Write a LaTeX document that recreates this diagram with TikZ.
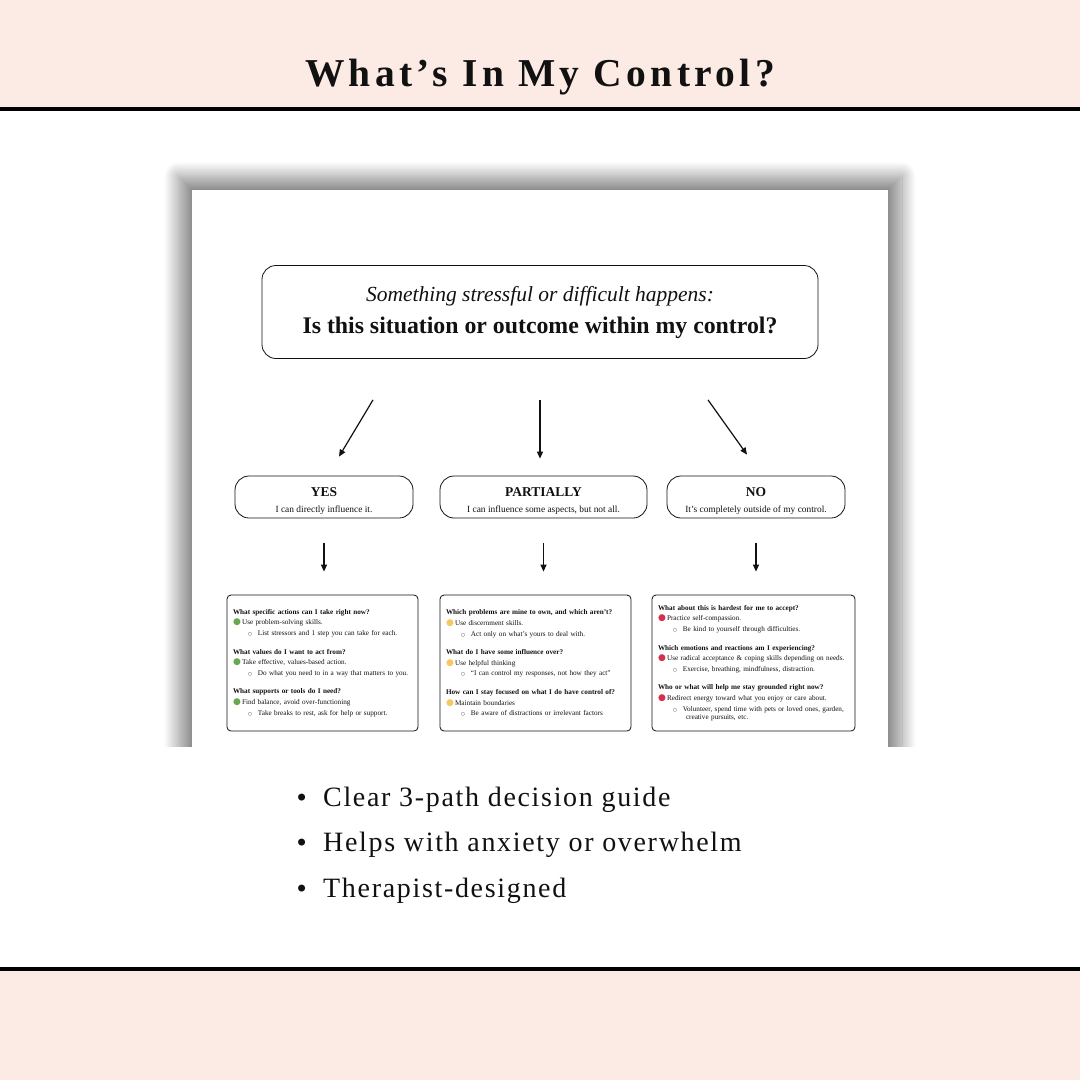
\documentclass[tikz,border=0pt]{standalone}
\usepackage{fontspec}
\setmainfont{Liberation Serif}
\newfontfamily\headfont[LetterSpace=11]{Liberation Serif}
\newfontfamily\listfont[LetterSpace=6]{Liberation Serif}
\newfontfamily\dotfont{DejaVu Sans}
\usetikzlibrary{arrows.meta,shadows.blur}

\definecolor{blush}{RGB}{252,235,228}
\definecolor{inkblack}{RGB}{17,17,17}
\definecolor{okgreen}{RGB}{106,168,79}
\definecolor{somegold}{RGB}{246,200,95}
\definecolor{nored}{RGB}{214,48,74}

\newcommand{\ask}[1]{\textbf{#1}}
\newcommand{\act}[2]{{\dotfont\fontsize{9}{9}\selectfont\textcolor{#1}{●}}\,#2}
\newcommand{\tip}[1]{\hspace*{15pt}{\dotfont\fontsize{4.5}{4}\selectfont ○}\hspace{6pt}#1}

\tikzset{
  askbox/.style={draw,rounded corners=14pt,line width=0.8pt,minimum width=556pt,
    minimum height=93pt,align=center,inner sep=0pt,font=\fontsize{21}{32}\selectfont},
  choice/.style={draw,rounded corners=14pt,line width=0.8pt,minimum height=42pt,
    align=center,inner sep=0pt,font=\fontsize{10}{16}\selectfont},
  pickbox/.style={draw,rounded corners=4pt,line width=0.8pt,minimum height=136pt,
    align=left,inner xsep=6pt,font=\fontsize{7.2}{10.6}\selectfont},
  flow/.style={line width=1.2pt,-{Triangle[length=7pt,width=6pt]}},
  feature/.style={anchor=base west,inner sep=0pt,font=\listfont\fontsize{28}{28}\selectfont},
  featdot/.style={anchor=base east,xshift=-14pt,inner sep=0pt,font=\dotfont\fontsize{24}{24}\selectfont}
}

\begin{document}
\begin{tikzpicture}[x=1pt,y=-1pt,inkblack]
  \useasboundingbox (0,0) rectangle (1080,1080);

  % bands
  \fill[blush] (0,0) rectangle (1080,108);
  \fill[black] (0,107) rectangle (1080,111);
  \fill[black] (0,967) rectangle (1080,971);
  \fill[blush] (0,971) rectangle (1080,1080);
  \node (title) at (540,86) [anchor=base,inner sep=0pt]
    {\headfont\fontsize{39.5}{40}\selectfont\bfseries What’s In My Control?};

  % the sheet
  \begin{scope}
    \clip (0,112) rectangle (1080,746);
    \path[blur shadow={shadow xshift=0pt,shadow yshift=0pt,shadow blur steps=24,
      shadow blur radius=14pt,shadow opacity=45}] (178,176) rectangle (902,800);
    \fill[white] (192,190) rectangle (888,780);
  \end{scope}

  \node (q) at (540,312) [askbox]
    {{\fontsize{21.5}{32}\selectfont\itshape Something stressful or difficult happens:}\\
     {\fontsize{23.8}{32}\selectfont\bfseries Is this situation or outcome within my control?}};

  \node (yes) at (324,497) [choice,minimum width=178pt]
    {\rule{0pt}{17pt}{\fontsize{13.5}{16}\selectfont\bfseries YES}\\
     {\fontsize{9.4}{16}\selectfont I can directly influence it.}};
  \node (part) at (543.5,497) [choice,minimum width=207pt]
    {\rule{0pt}{17pt}{\fontsize{13.5}{16}\selectfont\bfseries PARTIALLY}\\
     {\fontsize{9.4}{16}\selectfont I can influence some aspects, but not all.}};
  \node (no) at (756,497) [choice,minimum width=178pt]
    {\rule{0pt}{17pt}{\fontsize{13.5}{16}\selectfont\bfseries NO}\\
     {\fontsize{9.4}{16}\selectfont It’s completely outside of my control.}};

  \draw[flow] ([xshift=-167pt,yshift=-41pt]q.south) -- ([xshift=15pt,yshift=19pt]yes.north);
  \draw[flow] ([yshift=-41pt]q.south) -- ([yshift=17pt]q.south |- part.north);
  \draw[flow] ([xshift=168pt,yshift=-41pt]q.south) -- ([xshift=-9pt,yshift=21pt]no.north);

  \node (yesbox) at (322.5,663) [pickbox,text width=179pt]
    {\ask{What specific actions can I take right now?}\\
     \act{okgreen}{Use problem-solving skills.}\\
     \tip{List stressors and 1 step you can take for each.}\\[8pt]
     \ask{What values do I want to act from?}\\
     \act{okgreen}{Take effective, values-based action.}\\
     \tip{Do what you need to in a way that matters to you.}\\[8pt]
     \ask{What supports or tools do I need?}\\
     \act{okgreen}{Find balance, avoid over-functioning}\\
     \tip{Take breaks to rest, ask for help or support.}};
  \node (partbox) at (535.5,663) [pickbox,text width=179pt]
    {\ask{Which problems are mine to own, and which aren’t?}\\
     \act{somegold}{Use discernment skills.}\\
     \tip{Act only on what’s yours to deal with.}\\[8pt]
     \ask{What do I have some influence over?}\\
     \act{somegold}{Use helpful thinking}\\
     \tip{“I can control my responses, not how they act”}\\[8pt]
     \ask{How can I stay focused on what I do have control of?}\\
     \act{somegold}{Maintain boundaries}\\
     \tip{Be aware of distractions or irrelevant factors}};
  \node (nobox) at (753.5,663) [pickbox,text width=191pt]
    {\ask{What about this is hardest for me to accept?}\\
     \act{nored}{Practice self-compassion.}\\
     \tip{Be kind to yourself through difficulties.}\\[8pt]
     \ask{Which emotions and reactions am I experiencing?}\\
     \act{nored}{Use radical acceptance \& coping skills depending on needs.}\\
     \tip{Exercise, breathing, mindfulness, distraction.}\\[8pt]
     \ask{Who or what will help me stay grounded right now?}\\
     \act{nored}{Redirect energy toward what you enjoy or care about.}\\
     \tip{Volunteer, spend time with pets or loved ones, garden,}\\[-2.5pt]
     \hspace*{28pt}creative pursuits, etc.};

  \draw[flow,shorten <=25pt,shorten >=23pt] (yes.south) -- (yes.south |- yesbox.north);
  \draw[flow,shorten <=25pt,shorten >=23pt] (part.south) -- (part.south |- partbox.north);
  \draw[flow,shorten <=25pt,shorten >=23pt] (no.south) -- (no.south |- nobox.north);

  % features
  \node (f1) at (323,806) [feature] {Clear 3-path decision guide};
  \node (f2) at (323,851) [feature] {Helps with anxiety or overwhelm};
  \node (f3) at (323,897) [feature] {Therapist-designed};
  \node (d1) at (f1.base west) [featdot] {•};
  \node (d2) at (f2.base west) [featdot] {•};
  \node (d3) at (f3.base west) [featdot] {•};
\end{tikzpicture}
\end{document}
